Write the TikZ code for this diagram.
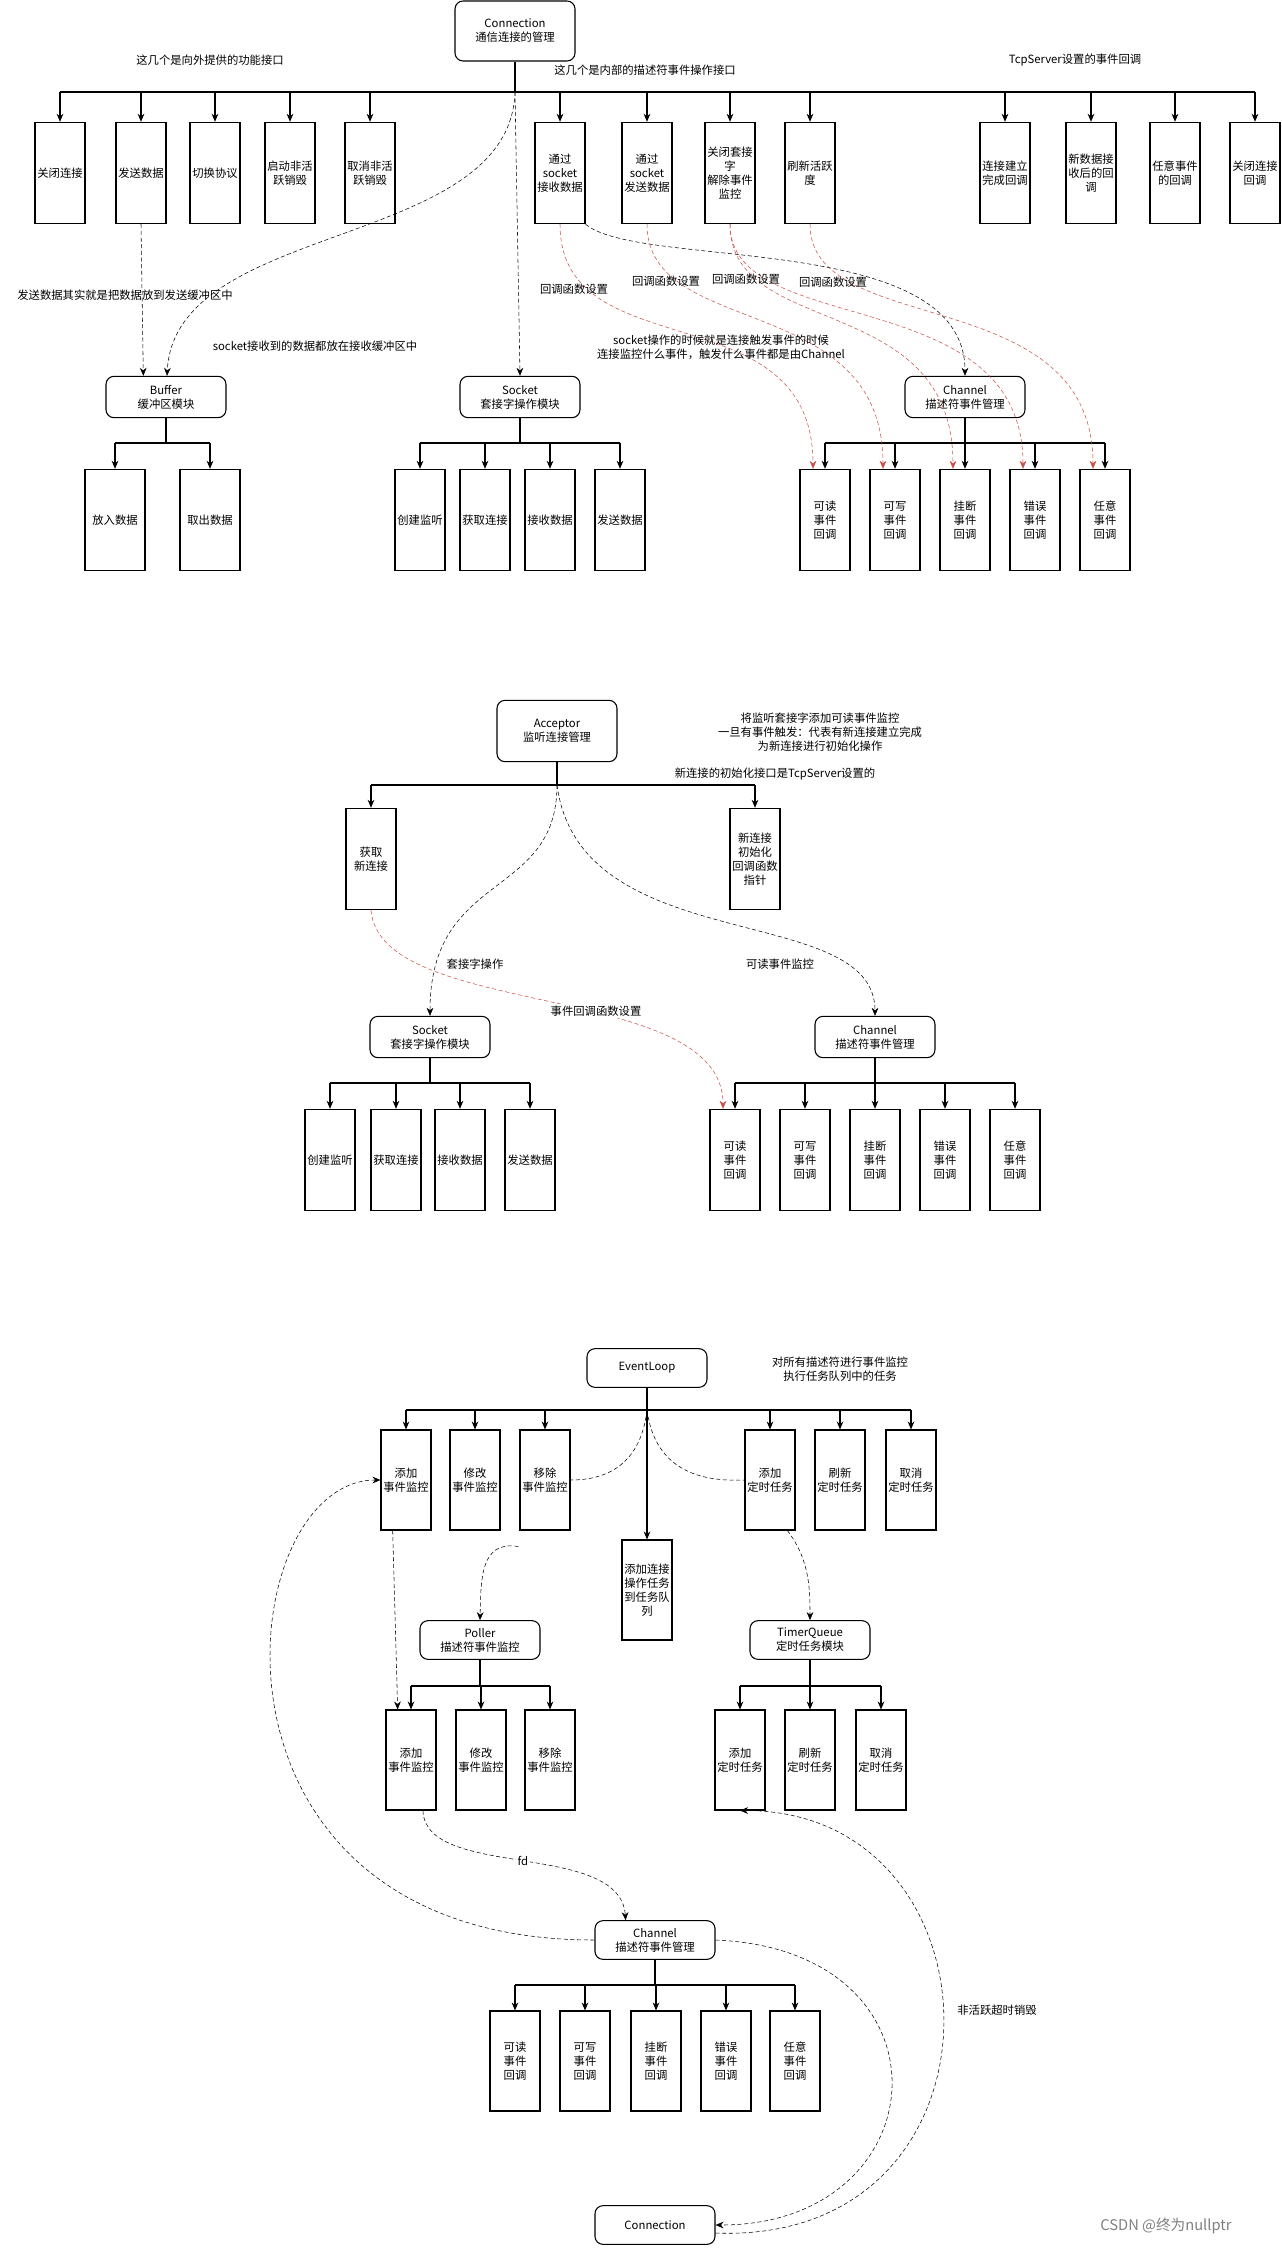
\documentclass[tikz,border=0pt]{standalone}
\usepackage{fontspec}
\setmainfont{Noto Sans CJK SC}
\usetikzlibrary{arrows.meta}
\begin{document}
\begin{tikzpicture}[x=0.75pt,y=-0.75pt,
  every node/.style={font=\fontsize{8.5}{10.5}\selectfont},
  tb/.style={draw,thick,minimum width=37.5pt,align=center,inner sep=0pt},
  h1/.style={tb,minimum height=76pt},
  h3/.style={tb,minimum height=75pt},
  rb/.style={draw,thick,rounded corners=6pt,minimum width=90pt,align=center,inner sep=1pt},
  ar/.style={thick,-{Stealth[length=6pt,width=5pt]}},
  ln/.style={thick},
  da/.style={densely dashed,-{Stealth[length=6pt,width=5pt]}},
  dl/.style={densely dashed},
  ra/.style={densely dashed,draw={rgb,255:red,200;green,80;blue,70},-{Stealth[length=6pt,width=5pt]}},
  lb/.style={fill=white,inner sep=1pt,align=center}]
\fill[white] (0,0) rectangle (1281,2251);
\useasboundingbox (0,0) rectangle (1281,2251);
% ===== Section 1 =====
\node[rb,minimum height=45pt] (conn) at (515,31) {Connection\\通信连接的管理};
\coordinate (b1) at (515,92);
\draw[ln] (conn.south) -- (b1);
\draw[ln] (60,92) -- (1255,92);
\foreach \n/\x/\t in {t1/60/关闭连接,t2/141/发送数据,t3/215/切换协议,t4/290/启动非活\\跃销毁,t5/370/取消非活\\跃销毁,t6/560/通过\\socket\\接收数据,t7/647/通过\\socket\\发送数据,t8/730/关闭套接\\字\\解除事件\\监控,t9/810/刷新活跃\\度,t10/1005/连接建立\\完成回调,t11/1091/新数据接\\收后的回\\调,t12/1175/任意事件\\的回调,t13/1255/关闭连接\\回调}{
  \node[h1] (\n) at (\x,173) {\t};
  \draw[ar] (\n.north |- b1) -- (\n.north);
}
\node at (210,60) {这几个是向外提供的功能接口};
\node at (645,70) {这几个是内部的描述符事件操作接口};
\node at (1075,60) {TcpServer设置的事件回调};

\node[rb,minimum height=31pt] (buf) at (166,397) {Buffer\\缓冲区模块};
\node[rb,minimum height=31pt] (sock) at (520,397) {Socket\\套接字操作模块};
\node[rb,minimum height=31pt] (chan) at (965,397) {Channel\\描述符事件管理};
\coordinate (bb) at (166,443);
\draw[ln] (buf.south) -- (bb); \draw[ln] (115,443) -- (210,443);
\foreach \n/\x/\t in {u1/115/放入数据,u2/210/取出数据}{
  \node[tb,minimum width=45pt,minimum height=76pt] (\n) at (\x,520) {\t};
  \draw[ar] (\n.north |- bb) -- (\n.north);}
\coordinate (bs) at (520,443);
\draw[ln] (sock.south) -- (bs); \draw[ln] (420,443) -- (620,443);
\foreach \n/\x/\t in {s1/420/创建监听,s2/485/获取连接,s3/550/接收数据,s4/620/发送数据}{
  \node[h1] (\n) at (\x,520) {\t};
  \draw[ar] (\n.north |- bs) -- (\n.north);}
\coordinate (bc) at (965,443);
\draw[ln] (chan.south) -- (bc); \draw[ln] (825,443) -- (1105,443);
\foreach \n/\x/\t in {c1/825/可读,c2/895/可写,c3/965/挂断,c4/1035/错误,c5/1105/任意}{
  \node[h1] (\n) at (\x,520) {\t\\事件\\回调};
  \draw[ar] (\n.north |- bc) -- (\n.north);}

\draw[da] (b1) .. controls (510,250) and (175,220) .. ([xshift=0.75pt]buf.north);
\draw[da] (b1) -- (sock.north);
\draw[da] (t2.south) -- ([xshift=-17pt]buf.north);
\draw[da] (t6.south east) .. controls (640,270) and (965,230) .. (chan.north);
\draw[ra] (t6.south) .. controls (560,370) and (813,290) .. ([xshift=-9pt]c1.north);
\draw[ra] (t7.south) .. controls (647,340) and (883,290) .. ([xshift=-9pt]c2.north);
\draw[ra] (t8.south) .. controls (730,340) and (953,290) .. ([xshift=-9pt]c3.north);
\draw[ra] (t8.south) .. controls (730,340) and (1023,280) .. ([xshift=-9pt]c4.north);
\draw[ra] (t9.south) .. controls (810,340) and (1093,280) .. ([xshift=-9pt]c5.north);
\node at (125,295) {发送数据其实就是把数据放到发送缓冲区中};
\node at (315,346) {socket接收到的数据都放在接收缓冲区中};
\node at (574,289) {回调函数设置};
\node at (666,281) {回调函数设置};
\node at (746,279) {回调函数设置};
\node at (833,282) {回调函数设置};
\node[align=center] at (721,347) {socket操作的时候就是连接触发事件的时候\\连接监控什么事件，触发什么事件都是由Channel};

% ===== Section 2 =====
\node[rb,minimum height=46pt] (acc) at (557,731) {Acceptor\\监听连接管理};
\coordinate (b2) at (557,785);
\draw[ln] (acc.south) -- (b2); \draw[ln] (371,785) -- (755,785);
\node[h1] (g1) at (371,859) {获取\\新连接};
\node[h1] (g2) at (755,859) {新连接\\初始化\\回调函数\\指针};
\draw[ar] (g1.north |- b2) -- (g1.north);
\draw[ar] (g2.north |- b2) -- (g2.north);
\node[align=center] at (820,732) {将监听套接字添加可读事件监控\\一旦有事件触发：代表有新连接建立完成\\为新连接进行初始化操作};
\node at (775,774) {新连接的初始化接口是TcpServer设置的};
\node[rb,minimum height=31pt] (sock2) at (430,1037) {Socket\\套接字操作模块};
\node[rb,minimum height=31pt] (chan2) at (875,1037) {Channel\\描述符事件管理};
\coordinate (bs2) at (430,1083);
\draw[ln] (sock2.south) -- (bs2); \draw[ln] (330,1083) -- (530,1083);
\foreach \n/\x/\t in {p1/330/创建监听,p2/396/获取连接,p3/460/接收数据,p4/530/发送数据}{
  \node[h1] (\n) at (\x,1160) {\t};
  \draw[ar] (\n.north |- bs2) -- (\n.north);}
\coordinate (bc2) at (875,1083);
\draw[ln] (chan2.south) -- (bc2); \draw[ln] (735,1083) -- (1015,1083);
\foreach \n/\x/\t in {q1/735/可读,q2/805/可写,q3/875/挂断,q4/945/错误,q5/1015/任意}{
  \node[h1] (\n) at (\x,1160) {\t\\事件\\回调};
  \draw[ar] (\n.north |- bc2) -- (\n.north);}
\draw[da] (b2) .. controls (557,900) and (430,870) .. (sock2.north);
\draw[da] (b2) .. controls (580,960) and (875,900) .. (chan2.north);
\draw[ra] (g1.south) .. controls (380,1020) and (723,980) .. ([xshift=-9pt]q1.north);
\node at (475,964) {套接字操作};
\node at (780,964) {可读事件监控};
\node[lb] at (596,1011) {事件回调函数设置};

% ===== Section 3 =====
\node[rb,minimum height=29pt] (el) at (647,1368) {EventLoop};
\coordinate (b3) at (647,1410);
\draw[ln] (el.south) -- (b3); \draw[ln] (406,1410) -- (911,1410);
\foreach \n/\x/\t in {e1/406/添加\\事件监控,e2/475/修改\\事件监控,e3/545/移除\\事件监控,e4/770/添加\\定时任务,e5/840/刷新\\定时任务,e6/911/取消\\定时任务}{
  \node[h3] (\n) at (\x,1480) {\t};
  \draw[ar] (\n.north |- b3) -- (\n.north);}
\node[h3] (eq) at (647,1590) {添加连接\\操作任务\\到任务队\\列};
\draw[ar] (b3) -- (eq.north);
\node[align=center] at (840,1369) {对所有描述符进行事件监控\\执行任务队列中的任务};
\node[rb,minimum height=29pt] (pol) at (480,1640) {Poller\\描述符事件监控};
\node[rb,minimum height=29pt] (tq) at (810,1640) {TimerQueue\\定时任务模块};
\coordinate (bp) at (480,1686);
\draw[ln] (pol.south) -- (bp); \draw[ln] (411,1686) -- (550,1686);
\foreach \n/\x/\t in {o1/411/添加\\事件监控,o2/481/修改\\事件监控,o3/550/移除\\事件监控}{
  \node[h3] (\n) at (\x,1760) {\t};
  \draw[ar] (\n.north |- bp) -- (\n.north);}
\coordinate (bt) at (810,1686);
\draw[ln] (tq.south) -- (bt); \draw[ln] (740,1686) -- (881,1686);
\foreach \n/\x/\t in {m1/740/添加\\定时任务,m2/810/刷新\\定时任务,m3/881/取消\\定时任务}{
  \node[h3] (\n) at (\x,1760) {\t};
  \draw[ar] (\n.north |- bt) -- (\n.north);}
\node[rb,minimum height=29pt] (chan3) at (655,1940) {Channel\\描述符事件管理};
\coordinate (bc3) at (655,1985);
\draw[ln] (chan3.south) -- (bc3); \draw[ln] (515,1985) -- (795,1985);
\foreach \n/\x/\t in {k1/515/可读,k2/585/可写,k3/656/挂断,k4/726/错误,k5/795/任意}{
  \node[h3] (\n) at (\x,2061) {\t\\事件\\回调};
  \draw[ar] (\n.north |- bc3) -- (\n.north);}
\node[rb,minimum height=29pt] (conn3) at (655,2225) {Connection};
\draw[dl] (b3) .. controls (640,1470) and (600,1480) .. (e3.east);
\draw[dl] (b3) .. controls (655,1470) and (700,1482) .. (e4.west);
\draw[da] ([xshift=-20pt,yshift=-12pt]e3.south) .. controls (480,1540) and (481,1580) .. (pol.north);
\draw[da] ([xshift=13pt]e4.south) .. controls (810,1560) and (810,1590) .. (tq.north);
\draw[da] ([xshift=-10pt]e1.south) -- ([xshift=-10pt]o1.north);
\draw[da] ([xshift=9pt]o1.south) .. controls (425,1880) and (620,1840) .. node[lb,pos=0.5]{fd} ([xshift=-22pt]chan3.north);
\draw[da] (chan3.west) .. controls (180,1940) and (230,1480) .. (e1.west);
\draw[da] (chan3.east) .. controls (960,1950) and (940,2225) .. (conn3.east);
\draw[da] ([yshift=-6pt]conn3.east) .. controls (1020,2245) and (1010,1810) .. (m1.south);
\node[lb] at (997,2010) {非活跃超时销毁};
\node[text=gray] at (1166,2226) {\fontsize{11}{13}\selectfont CSDN @终为nullptr};
\end{tikzpicture}
\end{document}
